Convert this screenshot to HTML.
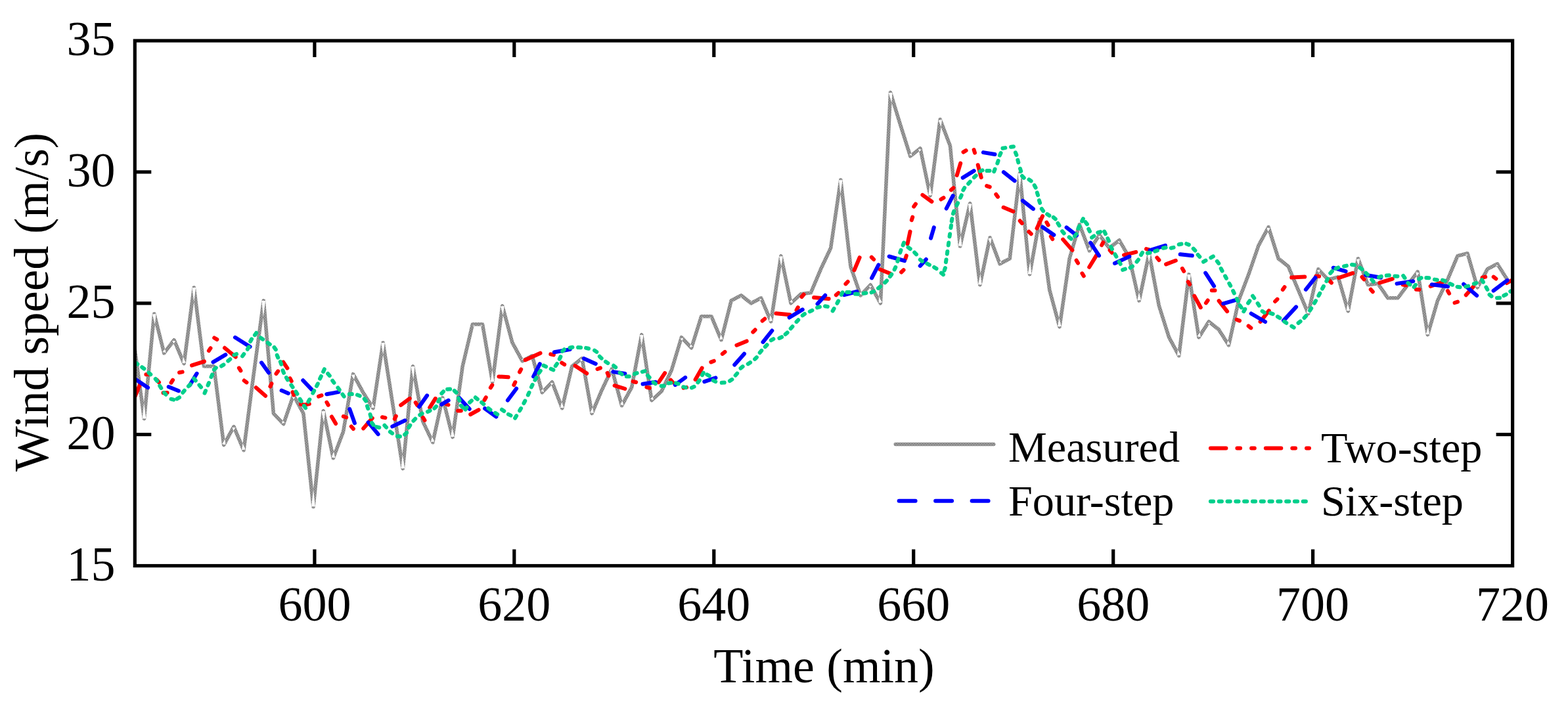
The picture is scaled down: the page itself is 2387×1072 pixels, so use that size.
<!DOCTYPE html>
<html lang="en">
<head>
<meta charset="utf-8">
<title>Wind speed forecast</title>
<style>
html,body{margin:0;padding:0;background:#fff;}
body{width:2387px;height:1072px;overflow:hidden;}
svg{display:block;}
text{font-family:"Liberation Serif",serif;fill:#000;}
.ax{font-size:74px;}
.yl{font-size:73px;}
.lg{font-size:66.2px;}
.ln{fill:none;stroke-linejoin:round;stroke-linecap:round;}
</style>
</head>
<body>
<svg width="2387" height="1072" viewBox="0 0 2387 1072">
<rect x="0" y="0" width="2387" height="1072" fill="#ffffff"/>
<defs>
<clipPath id="plot"><rect x="205.3" y="62.0" width="2097.3" height="799.5"/></clipPath>
<pattern id="hatch" width="4" height="4" patternUnits="userSpaceOnUse" shape-rendering="crispEdges"><rect width="4" height="4" fill="#a3a3a3"/><g fill="#747474"><rect x="1" y="0" width="1" height="1"/><rect x="3" y="0" width="1" height="1"/><rect x="2" y="1" width="1" height="1"/><rect x="1" y="2" width="1" height="1"/><rect x="3" y="2" width="1" height="1"/><rect x="0" y="3" width="1" height="1"/></g></pattern>
</defs>
<g clip-path="url(#plot)">
<polyline class="ln" stroke="url(#hatch)" stroke-width="5.6" stroke-linejoin="round" stroke-linecap="round" points="204.4,525.7 219.5,637.6 234.7,477.7 249.8,537.7 265.0,517.7 280.1,553.7 295.3,437.8 310.4,557.7 325.6,557.7 340.7,677.6 355.9,649.6 371.0,685.6 386.2,569.7 401.3,457.8 416.4,629.6 431.6,645.6 446.7,601.7 461.9,629.6 477.0,771.6 492.2,625.6 507.3,697.6 522.5,657.6 537.6,569.7 552.8,597.7 567.9,621.6 583.1,521.7 598.2,617.7 613.3,713.6 628.5,557.7 643.6,641.6 658.8,673.6 673.9,605.7 689.1,665.6 704.2,557.7 719.4,493.7 734.5,493.7 749.7,581.7 764.8,465.7 779.9,521.7 795.1,549.7 810.2,541.7 825.4,597.7 840.5,581.7 855.7,621.6 870.8,557.7 886.0,545.7 901.1,629.6 916.3,593.7 931.4,561.7 946.6,617.7 961.7,589.7 976.8,509.7 992.0,609.7 1007.1,595.7 1022.3,563.7 1037.4,513.7 1052.6,529.7 1067.7,481.7 1082.9,481.7 1098.0,517.7 1113.2,457.8 1128.3,449.8 1143.5,461.8 1158.6,453.8 1173.7,489.7 1188.9,389.8 1204.0,461.8 1219.2,447.8 1234.3,445.8 1249.5,409.8 1264.6,377.8 1279.8,273.9 1294.9,405.8 1310.1,449.8 1325.2,433.8 1340.4,461.8 1355.5,140.8 1370.6,189.9 1385.8,237.9 1400.9,225.9 1416.1,297.9 1431.2,181.9 1446.4,221.9 1461.5,375.0 1476.7,309.8 1491.8,433.8 1507.0,361.8 1522.1,401.8 1537.2,393.8 1552.4,263.9 1567.5,417.8 1582.7,333.8 1597.8,441.8 1613.0,497.7 1628.1,393.8 1643.3,341.8 1658.4,381.8 1673.6,357.8 1688.7,377.8 1703.9,365.8 1719.0,391.8 1734.1,457.8 1749.3,385.8 1764.4,465.7 1779.6,513.7 1794.7,541.7 1809.9,417.8 1825.0,513.7 1840.2,489.7 1855.3,501.7 1870.5,525.7 1885.6,457.8 1900.8,417.8 1915.9,373.8 1931.0,345.8 1946.2,393.8 1961.3,405.8 1976.5,441.8 1991.6,477.7 2006.8,409.8 2021.9,425.8 2037.1,421.8 2052.2,473.7 2067.4,393.8 2082.5,433.8 2097.7,431.8 2112.8,453.8 2127.9,453.8 2143.1,433.8 2158.2,413.8 2173.4,509.7 2188.5,457.8 2203.7,425.8 2218.8,389.8 2234.0,385.8 2249.1,437.8 2264.3,409.8 2279.4,401.8 2294.5,425.8"/>
<path fill="#ffffff" d="M222.3 637.3L216.8 637.4L219.1 613.1ZM237.5 478.0L232.0 478.4L235.9 494.2ZM252.6 537.0L247.6 536.0L251.1 531.4ZM267.2 519.4L262.4 518.8L264.3 523.3ZM282.7 552.6L277.4 553.3L278.7 543.1ZM298.1 438.1L292.5 438.1L295.2 459.7ZM313.2 557.3L310.4 554.9L312.9 554.9ZM325.6 560.5L322.8 558.0L323.1 560.5ZM343.5 677.3L338.3 676.3L342.4 668.6ZM358.3 651.0L353.3 650.7L355.5 656.1ZM373.6 684.5L368.2 685.2L369.6 675.0ZM404.1 458.1L398.5 458.0L400.7 483.0ZM419.2 629.4L418.5 627.7L419.1 628.4ZM433.6 643.7L428.9 644.7L430.4 640.4ZM449.4 602.6L444.3 603.0L447.3 608.6ZM459.4 631.0L459.1 629.9L459.2 630.5ZM479.8 771.3L474.2 771.3L477.0 744.8ZM495.0 625.9L489.4 626.2L493.1 643.7ZM510.1 697.0L504.7 696.6L508.1 687.7ZM540.4 570.2L535.1 571.0L539.0 578.1ZM570.3 620.2L565.1 621.2L566.3 613.8ZM585.8 522.1L580.3 522.1L583.1 540.0ZM616.1 713.2L610.6 713.3L612.7 691.4ZM631.3 558.0L625.7 558.2L629.3 578.1ZM646.4 641.1L646.2 640.4L646.3 640.8ZM661.3 672.4L656.0 673.0L657.8 665.1ZM676.7 606.3L671.2 606.3L674.1 617.8ZM691.8 664.9L686.3 665.2L688.3 651.1ZM722.1 494.4L719.4 496.5L721.6 496.5ZM734.5 496.5L731.8 494.2L732.2 496.5ZM752.4 581.2L746.9 581.3L749.3 563.0ZM767.6 466.1L762.1 466.5L765.8 480.0ZM782.7 521.0L782.4 520.4L782.6 520.7ZM797.6 548.4L793.8 547.2L796.2 545.9ZM811.5 544.2L807.5 542.4L808.5 545.8ZM828.1 596.9L823.4 595.7L826.8 592.1ZM842.6 583.6L837.9 582.7L839.5 586.8ZM858.3 620.7L853.0 621.0L855.1 612.1ZM873.5 558.3L872.6 559.9L873.3 559.3ZM887.7 547.9L883.2 546.2L884.0 550.8ZM903.9 629.1L898.5 628.6L902.2 619.9ZM933.9 562.9L928.7 562.4L930.7 569.7ZM949.3 616.9L944.1 616.3L947.4 610.2ZM959.2 588.3L958.9 589.1L959.0 588.7ZM979.6 510.2L974.1 510.1L976.5 526.4ZM994.8 609.2L990.1 607.6L994.0 604.0ZM1005.2 593.6L1004.6 594.5L1004.8 594.0ZM1040.1 514.5L1035.4 515.6L1038.7 519.1ZM1054.6 527.8L1049.9 528.9L1051.3 524.3ZM1070.4 482.6L1067.7 484.5L1069.8 484.5ZM1082.9 484.5L1080.3 482.8L1081.0 484.5ZM1100.6 516.6L1095.3 517.0L1097.3 508.9ZM1115.9 458.4L1114.5 460.2L1115.6 459.6ZM1129.6 452.2L1126.6 452.0L1128.0 453.1ZM1145.2 459.6L1142.1 459.3L1143.8 458.4ZM1159.9 456.2L1156.0 454.8L1157.2 457.7ZM1176.3 488.6L1171.0 489.3L1172.5 479.5ZM1191.7 390.2L1186.2 390.4L1189.3 405.5ZM1206.8 461.2L1202.1 459.7L1205.8 456.3ZM1221.1 449.8L1219.5 450.5L1220.4 450.4ZM1234.0 443.0L1231.7 444.7L1232.4 443.2ZM1262.1 376.6L1261.8 377.4L1261.9 377.0ZM1282.5 274.3L1277.0 274.2L1279.4 295.5ZM1297.7 405.5L1297.6 404.9L1297.7 405.2ZM1312.7 448.8L1308.0 447.8L1311.2 444.5ZM1327.2 435.7L1322.7 435.1L1324.6 438.5ZM1342.8 460.4L1337.6 461.6L1338.0 451.6ZM1358.3 140.9L1352.8 141.6L1357.5 156.9ZM1388.5 237.0L1384.0 235.7L1387.2 233.2ZM1402.7 228.1L1398.2 226.5L1399.1 230.9ZM1418.8 297.3L1413.3 297.5L1415.4 281.2ZM1434.0 182.3L1428.6 182.9L1432.6 193.3ZM1443.8 222.9L1443.6 222.2L1443.6 222.5ZM1464.3 374.7L1458.8 374.4L1462.6 357.8ZM1479.4 310.5L1473.9 310.2L1475.8 325.9ZM1494.6 433.4L1489.1 433.2L1492.5 416.7ZM1509.7 362.4L1504.3 362.8L1507.7 371.7ZM1524.7 400.8L1520.8 399.3L1523.6 397.8ZM1535.9 391.3L1534.5 393.5L1534.6 392.0ZM1555.2 264.2L1549.6 264.1L1552.2 290.1ZM1570.3 417.5L1564.8 417.3L1568.4 397.5ZM1585.4 334.3L1579.9 334.2L1582.3 351.5ZM1615.7 497.0L1610.2 497.3L1612.2 484.0ZM1646.0 342.6L1640.7 342.8L1643.6 350.6ZM1661.0 380.8L1656.0 380.3L1659.0 375.6ZM1675.9 359.3L1671.3 359.5L1673.8 362.7ZM1690.9 376.1L1687.0 375.6L1689.2 373.8ZM1705.6 368.0L1701.4 367.2L1703.1 370.0ZM1716.6 393.2L1716.3 392.4L1716.4 392.8ZM1736.9 457.1L1731.4 457.2L1734.0 444.7ZM1752.0 386.4L1746.5 386.3L1749.1 400.1ZM1797.2 540.4L1792.0 541.4L1793.0 532.6ZM1812.7 418.1L1807.1 418.2L1810.2 438.0ZM1827.8 513.3L1822.7 512.2L1826.6 505.9ZM1842.5 491.2L1838.4 491.9L1840.9 493.9ZM1853.6 503.9L1852.9 503.2L1853.2 503.6ZM1872.8 524.2L1867.7 525.1L1869.2 518.5ZM1933.5 347.2L1928.4 346.7L1930.4 353.0ZM1948.9 392.9L1947.9 391.6L1948.6 392.1ZM1959.6 408.0L1958.8 406.9L1959.0 407.5ZM1994.2 476.7L1988.9 477.1L1990.8 468.6ZM2009.5 410.4L2004.7 411.7L2008.4 415.5ZM2024.0 423.8L2021.2 423.1L2022.8 422.6ZM2037.8 424.5L2034.4 422.6L2035.1 425.2ZM2054.9 473.0L2049.5 473.2L2051.6 461.8ZM2070.1 394.3L2064.7 394.8L2068.3 404.1ZM2085.1 432.8L2082.1 431.0L2084.3 430.7ZM2098.0 434.5L2095.3 433.4L2096.3 434.8ZM2115.1 452.2L2112.8 451.0L2114.3 451.0ZM2127.9 451.0L2125.7 452.1L2126.6 451.0ZM2160.5 415.5L2155.5 414.2L2156.5 420.7ZM2176.1 509.3L2170.7 508.9L2174.2 496.9ZM2221.4 390.9L2219.5 392.5L2220.9 392.2ZM2234.7 388.5L2231.3 386.6L2232.0 389.2ZM2251.8 437.0L2246.6 436.4L2249.9 430.4ZM2266.7 411.1L2265.6 412.3L2266.3 411.9ZM2280.7 404.3L2277.0 403.3L2278.4 405.5Z"/>
<path class="ln" stroke="#ff0000" stroke-width="6.0" d="M204.9 605.1 L213.6 584.1 M222.4 570.3 L227.0 569.9 M238.9 578.6 L242.0 582.2 M248.5 598.2 L254.6 597.9 M260.6 582.7 L263.1 578.7 M273.0 567.2 L277.7 566.4 M292.0 556.3 L311.0 550.3 M317.9 534.1 L320.5 530.2 M326.2 514.5 L330.3 516.9 M342.0 529.8 L358.7 543.5 M363.9 560.4 L366.4 564.4 M371.7 579.5 L375.4 582.4 M389.8 590.3 L404.1 602.7 M411.4 588.5 L413.4 584.2 M420.5 569.1 L423.2 565.3 M431.2 551.3 L437.4 560.6 M441.5 576.2 L443.7 580.4 M445.5 597.1 L447.3 601.5 M457.7 615.6 L463.9 616.5 L470.8 615.1 M485.0 603.6 L489.5 602.2 M497.4 612.6 L499.7 616.7 M504.9 634.5 L511.1 645.1 M522.8 634.1 L527.2 635.5 M534.8 649.4 L537.9 653.0 M553.2 652.4 L566.8 636.8 M581.9 635.3 L586.5 636.1 M600.8 637.9 L602.8 633.7 M610.2 616.9 L623.7 606.8 M632.7 613.0 L635.2 617.0 M644.1 635.9 L646.5 640.0 M654.2 620.6 L662.8 606.8 M678.1 614.8 L682.5 616.5 M697.1 625.5 L701.8 625.5 M716.2 631.0 L728.7 624.1 M737.4 609.2 L739.7 605.2 M746.8 590.3 L749.3 586.3 M759.4 573.4 L773.7 574.3 M782.3 586.3 L784.3 582.0 M791.0 566.5 L793.2 562.3 M799.5 548.2 L822.5 537.7 M838.3 539.3 L842.9 540.4 M855.2 552.4 L859.2 555.0 M875.5 557.0 L893.2 568.6 M909.5 562.0 L913.9 560.4 M924.6 567.9 L926.5 572.2 M935.6 587.2 L951.4 592.0 M963.6 580.8 L968.2 582.0 M984.4 589.6 L988.9 590.8 M1002.7 582.2 L1012.1 568.1 M1021.1 578.7 L1024.2 582.2 M1040.5 590.6 L1045.1 589.9 M1058.6 577.9 L1068.6 560.4 M1082.4 551.4 L1086.8 549.7 M1099.8 538.8 L1103.5 535.9 M1121.4 525.7 L1136.7 519.4 M1146.3 505.6 L1149.6 502.3 M1160.6 488.5 L1164.2 485.5 M1181.4 477.2 L1202.3 479.3 M1212.5 472.2 L1214.7 468.1 M1220.5 452.0 L1223.6 448.4 M1239.1 453.0 L1261.6 455.0 M1272.8 449.3 L1276.3 446.1 M1287.4 432.4 L1290.6 429.0 M1300.5 411.3 L1308.6 392.2 M1326.8 391.6 L1330.1 395.0 M1339.7 410.3 L1355.0 416.5 M1372.1 414.5 L1375.5 411.2 M1378.4 393.9 L1379.8 389.4 M1381.5 371.5 L1385.5 352.6 M1387.8 335.1 L1389.2 330.6 M1391.2 314.5 L1393.9 310.6 M1404.4 296.8 L1418.4 307.0 M1432.5 303.5 L1436.5 301.2 M1447.9 289.3 L1451.4 286.1 M1456.7 267.0 L1462.2 248.6 M1466.5 231.6 L1470.6 229.2 M1482.6 228.2 L1484.0 232.6 M1488.7 251.2 L1493.7 270.1 M1502.2 283.1 L1506.7 284.7 M1516.3 295.9 L1519.0 299.7 M1527.6 315.8 L1542.4 322.0 M1552.7 336.3 L1555.7 339.9 M1566.3 352.8 L1569.7 356.2 M1578.5 347.7 L1587.1 329.1 M1593.3 338.6 L1595.6 342.7 M1599.8 360.0 L1602.2 364.1 M1618.2 364.6 L1632.4 380.9 M1638.6 396.5 L1641.0 400.6 M1647.4 416.3 L1649.8 420.3 M1658.2 406.8 L1669.3 388.6 M1677.1 373.3 L1679.3 369.2 M1689.6 381.1 L1692.6 384.7 M1711.0 388.3 L1729.2 383.8 M1745.0 379.1 L1749.5 380.3 M1761.4 392.4 L1764.4 396.0 M1775.1 402.4 L1789.8 396.8 M1799.9 408.9 L1802.2 413.0 M1808.7 429.1 L1811.0 433.1 M1818.2 450.6 L1827.8 468.2 M1835.9 461.4 L1838.6 457.5 M1844.8 442.3 L1849.5 442.3 M1855.6 458.1 L1868.1 474.2 M1882.7 486.7 L1887.0 488.4 M1900.6 496.4 L1904.3 499.3 M1918.6 489.9 L1931.7 473.2 M1941.1 459.0 L1944.5 455.6 M1952.8 441.0 L1955.5 437.1 M1966.2 422.5 L1986.2 421.5 M2003.4 420.4 L2008.1 420.7 M2023.6 427.3 L2026.9 430.6 M2037.8 423.1 L2059.3 415.9 M2073.5 421.8 L2076.5 425.4 M2086.7 440.8 L2089.8 444.3 M2100.2 430.7 L2119.8 424.7 M2135.7 433.6 L2140.3 434.4 M2155.8 440.7 L2160.5 440.9 M2177.6 435.8 L2195.4 429.9 M2203.9 442.8 L2206.1 446.9 M2214.5 461.0 L2219.0 459.6 M2231.7 449.2 L2242.7 436.7 M2256.6 422.7 L2261.2 421.6 M2273.7 421.6 L2277.4 424.5 M2293.9 431.0 L2303.9 425.3"/>
<path class="ln" stroke="#0000ff" stroke-width="6.0" d="M205.4 576.9 L225.1 590.3 M256.7 589.0 L272.0 595.2 M289.0 586.4 L299.6 568.8 M324.5 551.4 L343.4 540.2 M357.9 513.8 L380.6 528.0 M398.1 552.3 L409.0 567.6 M428.6 594.6 L438.9 598.9 M461.3 579.2 L474.5 593.1 M497.3 600.3 L515.5 596.9 M532.2 622.8 L539.9 644.3 M560.7 643.1 L575.6 661.1 M597.3 649.4 L616.5 640.3 M638.0 619.4 L650.1 602.3 M672.1 615.8 L682.7 609.7 M699.3 605.9 L714.7 622.8 M738.1 622.0 L755.4 634.6 M772.9 609.5 L786.1 591.7 M812.1 573.4 L821.8 554.1 M843.8 536.2 L867.6 532.1 M888.9 545.9 L906.8 553.9 M933.2 566.1 L951.4 569.0 M978.5 584.8 L998.0 581.8 M1027.9 586.2 L1043.2 574.8 M1072.3 581.2 L1089.4 575.3 M1118.2 555.5 L1133.0 538.7 M1161.5 520.8 L1175.3 503.5 M1201.6 483.5 L1221.7 471.4 M1244.5 462.8 L1256.2 449.7 M1285.0 449.0 L1304.5 444.0 M1327.1 423.4 L1337.4 403.4 M1353.6 390.5 L1377.0 397.2 M1400.7 404.9 L1409.8 394.9 M1417.0 362.7 L1421.8 346.3 M1440.7 317.5 L1450.6 298.2 M1465.7 270.6 L1482.7 260.1 M1496.9 232.1 L1514.5 235.0 M1527.9 262.2 L1544.6 275.4 M1556.9 305.7 L1572.9 318.2 M1587.2 345.7 L1604.3 357.8 M1623.6 346.4 L1639.0 358.3 M1660.1 369.7 L1673.0 389.2 M1697.0 401.0 L1719.3 390.6 M1750.6 381.2 L1774.0 373.9 M1796.7 387.3 L1814.8 389.3 M1835.2 415.6 L1848.1 435.6 M1862.2 462.3 L1881.1 456.8 M1904.7 477.5 L1926.1 490.0 M1954.0 488.1 L1973.1 467.4 M1987.9 440.8 L2002.2 422.8 M2029.7 407.7 L2048.6 413.1 M2078.9 418.7 L2102.1 422.8 M2126.5 431.9 L2151.3 428.2 M2179.6 433.2 L2204.1 436.3 M2228.1 432.7 L2248.1 450.0 M2273.6 442.6 L2294.6 426.9"/>
<path class="ln" stroke="#00cf8b" stroke-width="6.0" d="M206.1 552.2 L209.4 554.5 M216.2 559.1 L219.4 561.5 M226.4 567.5 L229.3 570.2 M236.7 577.0 L239.2 580.1 M243.2 587.5 L245.3 590.9 M249.8 597.9 L252.5 600.8 M260.5 607.7 L264.4 608.6 M269.6 607.3 L273.0 605.2 M278.2 597.7 L280.8 594.7 M286.9 588.2 L289.7 585.3 M295.2 576.3 L297.8 579.5 M303.4 586.4 L306.0 589.5 M311.5 598.6 L313.0 595.0 M316.5 586.7 L318.0 583.0 M321.5 574.1 L323.1 570.4 M325.9 562.9 L328.8 560.1 M337.0 557.5 L340.4 555.4 M347.2 549.6 L350.3 547.0 M356.3 540.5 L360.1 539.2 M369.0 542.4 L371.3 539.1 M376.8 531.8 L378.7 528.3 M381.2 519.8 L383.1 516.3 M387.9 510.2 L390.2 507.0 M396.9 514.4 L400.1 516.7 M407.6 521.9 L410.8 524.3 M417.5 529.0 L419.8 532.3 M421.7 540.8 L423.2 544.5 M426.8 550.8 L428.2 554.6 M430.5 564.1 L432.0 567.8 M435.9 574.9 L437.9 578.4 M443.4 586.3 L445.6 589.6 M450.4 596.4 L452.5 599.8 M456.7 607.7 L458.7 611.1 M462.9 617.8 L465.1 621.2 M469.3 611.7 L471.3 608.3 M476.3 598.6 L478.2 595.0 M482.0 587.9 L483.8 584.3 M487.1 576.6 L488.8 572.9 M492.1 565.9 L493.8 562.2 M499.1 569.0 L501.8 572.1 M506.2 579.6 L508.5 582.9 M514.4 590.4 L516.7 593.6 M521.4 600.4 L523.6 603.7 M531.8 600.2 L535.8 600.1 M543.9 601.3 L547.7 602.8 M554.7 607.4 L557.1 610.6 M559.0 618.4 L560.3 622.2 M563.5 631.0 L564.6 634.8 M566.0 643.9 L568.4 647.1 M573.4 650.1 L577.3 651.0 M585.4 647.8 L588.1 650.7 M593.9 657.5 L597.1 659.9 M604.9 664.3 L608.9 664.5 M616.1 661.7 L619.1 659.0 M622.2 651.0 L624.3 647.6 M629.4 640.7 L632.2 637.7 M639.2 631.8 L642.6 629.7 M651.0 627.0 L654.6 625.2 M661.3 621.8 L664.0 618.9 M667.3 611.4 L669.1 607.8 M672.3 599.1 L675.0 596.2 M681.1 592.7 L685.1 592.5 M691.7 595.0 L694.6 597.7 M698.0 606.3 L699.6 609.9 M701.8 617.6 L704.6 620.5 M708.4 623.6 L710.6 620.3 M715.0 612.8 L717.9 610.1 M723.8 605.3 L726.9 607.8 M733.2 612.8 L736.3 615.4 M743.3 621.7 L746.5 624.1 M753.9 628.8 L757.2 631.0 M764.0 623.7 L767.3 626.0 M773.9 630.9 L777.5 632.6 M784.1 636.6 L786.2 633.2 M791.1 625.3 L793.1 621.8 M797.4 614.0 L799.3 610.5 M803.8 601.5 L805.5 597.8 M808.9 589.5 L810.6 585.9 M814.4 578.7 L816.4 575.2 M820.5 567.9 L822.8 564.6 M827.4 556.6 L831.1 558.3 M838.7 561.7 L842.4 563.3 M845.7 557.2 L848.0 553.9 M851.7 546.7 L853.4 543.1 M856.1 534.9 L859.0 532.2 M867.6 529.5 L871.5 528.8 M880.1 529.0 L884.1 529.2 M892.1 529.9 L896.1 530.8 M905.1 533.6 L908.3 535.9 M912.8 542.8 L915.7 545.6 M922.0 550.7 L925.4 552.9 M934.1 556.8 L937.2 559.3 M943.5 567.6 L946.7 569.9 M953.8 573.2 L957.8 573.2 M965.9 569.4 L969.7 568.2 M977.8 566.1 L981.7 565.1 M985.9 571.7 L988.7 574.7 M994.5 582.1 L997.8 584.4 M1006.7 587.7 L1010.7 587.6 M1017.5 583.6 L1021.5 583.0 M1028.9 583.4 L1032.8 584.5 M1040.2 589.2 L1044.1 590.1 M1052.9 590.4 L1056.6 588.8 M1062.4 582.4 L1064.8 579.2 M1068.9 571.2 L1070.8 567.7 M1076.3 570.4 L1079.8 572.3 M1085.7 579.3 L1089.3 581.1 M1098.7 582.8 L1102.7 582.6 M1111.0 580.0 L1114.4 577.8 M1119.6 571.6 L1122.2 568.6 M1127.5 560.7 L1130.6 558.1 M1138.7 554.2 L1142.1 552.0 M1149.1 546.9 L1151.9 544.1 M1156.7 537.0 L1159.3 533.9 M1164.8 528.1 L1167.6 525.2 M1173.9 518.2 L1177.4 516.2 M1186.4 514.9 L1190.1 513.2 M1195.6 509.1 L1198.6 506.4 M1203.7 500.2 L1206.4 497.2 M1212.5 490.1 L1215.2 487.2 M1221.7 480.4 L1224.9 478.0 M1232.8 474.4 L1236.4 472.6 M1244.1 468.4 L1247.9 467.3 M1256.0 466.3 L1259.9 466.9 M1267.6 473.4 L1269.6 469.9 M1274.4 461.8 L1276.3 458.3 M1280.7 448.9 L1282.5 445.3 M1289.3 444.9 L1293.3 444.9 M1301.9 447.6 L1305.9 447.8 M1314.5 446.7 L1318.5 446.2 M1326.6 445.3 L1330.3 443.8 M1337.0 438.9 L1340.1 436.4 M1347.2 430.3 L1350.0 427.4 M1355.0 421.0 L1357.3 417.7 M1361.6 410.5 L1363.3 406.9 M1366.3 398.0 L1367.5 394.2 M1370.2 384.7 L1371.5 380.9 M1374.6 373.4 L1376.0 369.6 M1382.5 376.6 L1385.7 379.0 M1392.2 384.5 L1395.0 387.4 M1400.8 395.4 L1403.9 397.9 M1411.3 401.4 L1414.9 403.3 M1422.1 406.9 L1425.5 409.1 M1432.9 415.6 L1436.0 418.1 M1437.6 411.8 L1438.9 408.0 M1439.9 399.3 L1440.5 395.3 M1441.8 386.7 L1442.3 382.7 M1443.7 373.5 L1444.2 369.5 M1445.5 360.2 L1446.1 356.3 M1447.4 347.0 L1448.0 343.1 M1448.7 336.9 L1449.4 333.0 M1450.9 325.5 L1452.2 321.7 M1456.4 312.8 L1458.1 309.2 M1462.1 300.9 L1463.7 297.2 M1466.3 289.4 L1468.3 286.0 M1474.1 279.8 L1476.8 276.8 M1482.9 270.2 L1485.7 267.4 M1491.9 260.7 L1495.6 259.3 M1502.5 260.1 L1506.5 259.9 M1513.2 261.2 L1514.6 257.5 M1518.3 248.7 L1519.6 244.9 M1521.9 236.6 L1523.5 233.0 M1526.4 225.7 L1530.4 225.1 M1539.0 223.8 L1543.0 223.2 M1545.9 232.3 L1547.4 236.0 M1549.3 243.6 L1550.3 247.4 M1553.0 256.8 L1554.2 260.7 M1556.0 268.0 L1558.7 270.9 M1566.5 273.3 L1569.6 275.7 M1574.7 282.2 L1576.6 285.7 M1578.8 293.4 L1580.0 297.2 M1581.9 305.1 L1583.1 308.9 M1585.8 318.0 L1588.1 321.3 M1594.1 326.1 L1597.4 328.3 M1603.7 330.9 L1606.7 333.6 M1610.4 340.0 L1612.5 343.4 M1617.1 352.1 L1619.7 355.2 M1627.6 361.2 L1630.7 363.7 M1636.0 359.5 L1638.6 356.6 M1641.5 347.9 L1643.2 344.3 M1647.1 336.8 L1648.9 333.2 M1652.5 338.2 L1654.9 341.4 M1657.2 348.7 L1659.0 352.3 M1662.1 361.7 L1665.4 359.4 M1671.3 354.2 L1675.1 353.1 M1681.2 352.5 L1682.9 356.1 M1686.3 363.1 L1687.9 366.8 M1691.2 375.8 L1692.9 379.4 M1697.4 387.2 L1699.4 390.7 M1703.7 398.5 L1705.7 402.0 M1709.1 410.9 L1712.9 409.7 M1720.6 407.6 L1724.0 405.5 M1730.5 398.7 L1733.0 395.5 M1737.0 388.1 L1739.1 384.7 M1746.8 385.5 L1750.7 384.7 M1758.2 382.6 L1762.0 381.4 M1770.7 377.7 L1774.7 377.0 M1782.7 377.7 L1786.6 376.9 M1794.7 372.3 L1798.6 371.5 M1806.1 371.2 L1809.8 372.6 M1816.7 378.6 L1819.4 381.5 M1823.6 388.0 L1826.3 391.0 M1832.0 398.7 L1835.5 396.7 M1843.4 392.4 L1846.9 390.4 M1852.8 397.8 L1855.2 401.0 M1858.7 408.9 L1860.6 412.5 M1865.0 420.3 L1866.9 423.8 M1871.3 431.6 L1873.2 435.1 M1877.1 442.9 L1878.8 446.5 M1882.7 454.9 L1884.5 458.5 M1887.5 465.1 L1889.8 468.4 M1893.3 474.2 L1895.3 470.7 M1900.1 461.5 L1902.4 458.2 M1907.0 450.6 L1909.3 453.9 M1914.6 461.9 L1916.8 465.3 M1921.6 473.8 L1924.9 476.1 M1934.0 476.8 L1937.7 478.1 M1944.9 482.1 L1948.3 484.2 M1955.0 489.6 L1958.3 491.8 M1966.3 496.6 L1969.7 498.7 M1976.5 491.9 L1979.6 489.4 M1985.5 484.0 L1988.2 481.0 M1994.0 472.8 L1996.2 469.5 M2001.0 461.6 L2003.0 458.1 M2007.3 450.2 L2009.2 446.7 M2013.0 439.5 L2014.9 436.0 M2019.3 428.2 L2021.2 424.7 M2025.2 416.0 L2027.9 413.0 M2033.5 409.0 L2037.2 407.4 M2046.0 405.4 L2049.9 404.6 M2057.9 402.9 L2061.9 403.4 M2070.2 407.7 L2073.5 409.9 M2079.3 415.6 L2082.1 418.4 M2088.2 425.7 L2090.8 428.7 M2099.0 422.2 L2102.8 420.9 M2110.8 419.5 L2114.8 419.3 M2123.4 420.5 L2127.4 420.8 M2136.2 419.9 L2138.5 423.2 M2143.3 431.0 L2146.5 433.4 M2152.6 437.0 L2154.9 433.8 M2160.2 425.0 L2163.7 423.1 M2171.3 423.0 L2175.3 423.3 M2183.9 425.6 L2187.8 426.3 M2195.9 426.6 L2199.8 427.8 M2207.3 432.1 L2211.0 433.7 M2218.5 436.7 L2222.5 437.3 M2231.1 436.4 L2235.1 435.6 M2243.8 432.2 L2247.6 431.0 M2256.1 426.1 L2258.0 429.6 M2262.4 437.4 L2264.3 440.9 M2267.5 448.6 L2270.5 451.1 M2279.0 453.7 L2283.0 453.5 M2289.3 450.2 L2292.8 448.3 M2299.3 443.8 L2302.9 442.0 M2310.6 439.3 L2314.3 437.8"/>
</g>
<g stroke="#000" stroke-width="5.2" fill="none" stroke-linecap="butt">
<rect x="205.3" y="62.0" width="2097.3" height="799.5"/>
<line x1="478.9" y1="861.5" x2="478.9" y2="836.5"/><line x1="478.9" y1="62.0" x2="478.9" y2="87.0"/>
<line x1="782.8" y1="861.5" x2="782.8" y2="836.5"/><line x1="782.8" y1="62.0" x2="782.8" y2="87.0"/>
<line x1="1086.8" y1="861.5" x2="1086.8" y2="836.5"/><line x1="1086.8" y1="62.0" x2="1086.8" y2="87.0"/>
<line x1="1390.7" y1="861.5" x2="1390.7" y2="836.5"/><line x1="1390.7" y1="62.0" x2="1390.7" y2="87.0"/>
<line x1="1694.7" y1="861.5" x2="1694.7" y2="836.5"/><line x1="1694.7" y1="62.0" x2="1694.7" y2="87.0"/>
<line x1="1998.6" y1="861.5" x2="1998.6" y2="836.5"/><line x1="1998.6" y1="62.0" x2="1998.6" y2="87.0"/>
<line x1="205.3" y1="661.6" x2="230.3" y2="661.6"/><line x1="2302.6" y1="661.6" x2="2277.6" y2="661.6"/>
<line x1="205.3" y1="461.8" x2="230.3" y2="461.8"/><line x1="2302.6" y1="461.8" x2="2277.6" y2="461.8"/>
<line x1="205.3" y1="261.9" x2="230.3" y2="261.9"/><line x1="2302.6" y1="261.9" x2="2277.6" y2="261.9"/>
</g>
<text class="ax" x="478.9" y="944.6" text-anchor="middle">600</text>
<text class="ax" x="782.8" y="944.6" text-anchor="middle">620</text>
<text class="ax" x="1086.8" y="944.6" text-anchor="middle">640</text>
<text class="ax" x="1390.7" y="944.6" text-anchor="middle">660</text>
<text class="ax" x="1694.7" y="944.6" text-anchor="middle">680</text>
<text class="ax" x="1998.6" y="944.6" text-anchor="middle">700</text>
<text class="ax" x="2302.6" y="944.6" text-anchor="middle">720</text>
<text class="ax" x="175.5" y="883.5" text-anchor="end">15</text>
<text class="ax" x="175.5" y="683.6" text-anchor="end">20</text>
<text class="ax" x="175.5" y="483.8" text-anchor="end">25</text>
<text class="ax" x="175.5" y="283.9" text-anchor="end">30</text>
<text class="ax" x="175.5" y="84.0" text-anchor="end">35</text>
<text class="ax" x="1254.5" y="1038.6" text-anchor="middle">Time (min)</text>
<text class="yl" transform="translate(72.7,459.9) rotate(-90)" text-anchor="middle">Wind speed (m/s)</text>
<line x1="1363.3" y1="676.5" x2="1512.7" y2="676.5" stroke="url(#hatch)" stroke-width="5.6" stroke-linecap="round"/>
<text class="lg" x="1535" y="703.3">Measured</text>
<line class="ln" x1="1368.6" y1="762.8" x2="1510" y2="762.8" stroke="#0000ff" stroke-width="6" stroke-dasharray="25 30.5"/>
<text class="lg" x="1535" y="784.6">Four-step</text>
<line class="ln" x1="1842.9" y1="682.4" x2="1993" y2="682.4" stroke="#ff0000" stroke-width="6" stroke-dasharray="23.5 17 4.7 17 4.7 17"/>
<text class="lg" x="2011" y="704.4">Two-step</text>
<line class="ln" x1="1842.9" y1="763.6" x2="1989" y2="763.6" stroke="#00cf8b" stroke-width="6" stroke-dasharray="4.2 8.6"/>
<text class="lg" x="2011" y="785.2">Six-step</text>
</svg>
</body>
</html>
